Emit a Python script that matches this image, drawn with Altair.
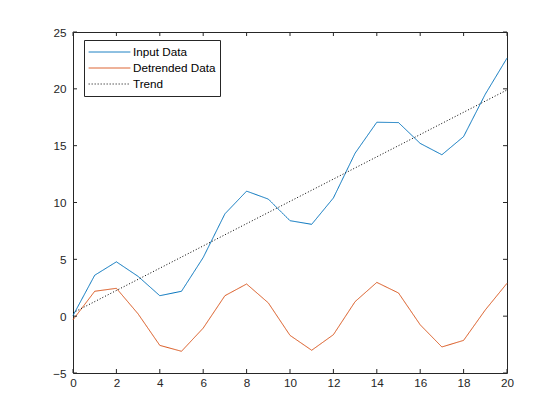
import pandas as pd
import altair as alt

X_VALUES = list(range(21))
INPUT_DATA = [0.05, 3.6, 4.78, 3.5, 1.8, 2.19, 5.16, 9.0, 11.0, 10.3, 8.4,
              8.08, 10.4, 14.34, 17.06, 17.03, 15.2, 14.2, 15.8, 19.53, 22.7]
DETRENDED = [-0.32, 2.19, 2.45, 0.2, -2.57, -3.09, -1.05, 1.8, 2.83, 1.17, -1.69,
             -3.0, -1.63, 1.28, 2.97, 2.04, -0.76, -2.71, -2.13, 0.55, 2.89]
TREND_X = [0, 20]
TREND_Y = [0.3, 19.9]

X_TICKS = [0, 2, 4, 6, 8, 10, 12, 14, 16, 18, 20]
Y_TICKS = [-5, 0, 5, 10, 15, 20, 25]

SERIES = ["Input Data", "Detrended Data", "Trend"]
COLORS = ["#0072BD", "#D95319", "#000000"]
DASHES = [[1, 0], [1, 0], [1, 2]]

W, H = 434, 341
AX = "#262626"
FONT = "Liberation Sans"
FS = 11.7

rows = []
for x, v in zip(X_VALUES, INPUT_DATA):
    rows.append({"x": x, "y": v, "series": "Input Data"})
for x, v in zip(X_VALUES, DETRENDED):
    rows.append({"x": x, "y": v, "series": "Detrended Data"})
for x, v in zip(TREND_X, TREND_Y):
    rows.append({"x": x, "y": v, "series": "Trend"})
df = pd.DataFrame(rows)

xscale = alt.Scale(domain=[0, 20], nice=False, zero=False)
yscale = alt.Scale(domain=[-5, 25], nice=False, zero=False)
xaxis = alt.Axis(values=X_TICKS, ticks=False, domain=False, grid=False, title=None,
                 labelFlush=False, labelPadding=4, labelFontSize=FS,
                 labelColor=AX, labelFont=FONT)
yaxis = alt.Axis(values=Y_TICKS, ticks=False, domain=False, grid=False, title=None,
                 labelFlush=False, labelPadding=7, labelFontSize=FS,
                 labelColor=AX, labelFont=FONT)

lines = alt.Chart(df).mark_line(strokeWidth=1).encode(
    x=alt.X("x:Q", scale=xscale, axis=xaxis),
    y=alt.Y("y:Q", scale=yscale, axis=yaxis),
    color=alt.Color("series:N", scale=alt.Scale(domain=SERIES, range=COLORS),
                    legend=alt.Legend(title=None)),
    strokeDash=alt.StrokeDash("series:N", scale=alt.Scale(domain=SERIES, range=DASHES),
                              legend=alt.Legend(title=None)),
    order=alt.Order("x:Q"),
)

# ticks pointing inward on all four sides, like a boxed axes
xt = pd.DataFrame({"x": X_TICKS})
yt = pd.DataFrame({"y": Y_TICKS})
tl = 4

bottom = alt.Chart(xt).mark_rule(color=AX, strokeWidth=1).encode(
    x=alt.X("x:Q", scale=xscale, axis=xaxis), y=alt.value(H), y2=alt.value(H - tl))
top = alt.Chart(xt).mark_rule(color=AX, strokeWidth=1).encode(
    x=alt.X("x:Q", scale=xscale, axis=xaxis), y=alt.value(0), y2=alt.value(tl))
left = alt.Chart(yt).mark_rule(color=AX, strokeWidth=1).encode(
    y=alt.Y("y:Q", scale=yscale, axis=yaxis), x=alt.value(0), x2=alt.value(tl))
right = alt.Chart(yt).mark_rule(color=AX, strokeWidth=1).encode(
    y=alt.Y("y:Q", scale=yscale, axis=yaxis), x=alt.value(W), x2=alt.value(W - tl))

chart = alt.layer(lines, bottom, top, left, right).properties(
    width=W, height=H,
    autosize=alt.AutoSizeParams(type="none"),
    padding={"left": 65, "top": 24, "right": 45, "bottom": 39},
    background="white",
).configure_view(
    stroke=AX, strokeWidth=1
).configure_legend(
    orient="none", legendX=11, legendY=8,
    strokeColor=AX, fillColor="white", padding=4,
    symbolType="stroke", symbolSize=1740, symbolStrokeWidth=1,
    labelFontSize=FS, labelFont=FONT, labelColor="#000000",
    rowPadding=0, clipHeight=16, labelOffset=2, cornerRadius=0,
)

chart.save("out.html", embed_options={"renderer": "svg", "actions": False})
